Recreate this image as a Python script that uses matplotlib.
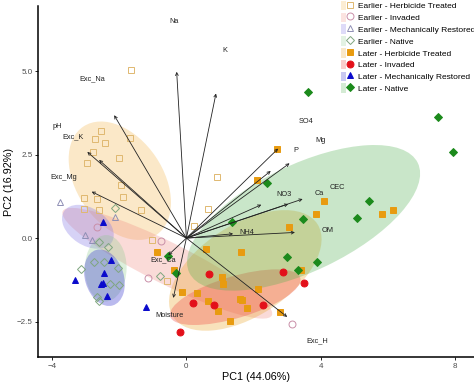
import numpy as np
import matplotlib
matplotlib.use("Agg")
import matplotlib.pyplot as plt
from matplotlib.patches import Ellipse, Patch
from matplotlib.lines import Line2D
from matplotlib.legend_handler import HandlerTuple

plt.rcParams['font.family'] = ['Liberation Sans', 'DejaVu Sans']

# PCA scores (PC1, PC2)
early_ht_x = [-1.65, -2.54, -2.72, -2.43, -1.68, -2.78, -2.96, -2.01, -1.95, -1.89,
              -3.05, -2.66, -3.05, -2.60, -1.35, 0.91, 0.64, 0.22, -1.03, -0.58]
early_ht_y = [5.03, 3.20, 2.96, 2.84, 2.99, 2.57, 2.25, 2.40, 1.59, 1.23,
              1.20, 1.17, 0.87, 0.84, 0.84, 1.83, 0.87, 0.36, -0.06, -1.29]
early_inv_x = [-2.66, -0.76, -1.15, 3.14]
early_inv_y = [0.33, -0.09, -1.20, -2.57]
early_mr_x = [-3.76, -3.02, -2.81, -2.13]
early_mr_y = [1.08, 0.09, -0.06, 0.63]
early_nat_x = [-2.13, -2.60, -2.34, -2.75, -2.46, -2.04, -3.14, -2.28, -2.01, -2.66, -2.60, -0.79]
early_nat_y = [0.90, -0.12, -0.27, -0.72, -0.72, -0.90, -0.93, -1.38, -1.41, -1.77, -1.89, -1.14]
late_ht_x = [2.69, 2.10, 4.09, 3.85, 3.05, 5.82, 6.15, 1.62, 3.41, 2.13, 1.59, 1.65,
             1.80, 2.78, 1.29, 0.58, 1.06, 1.09, 0.31, -0.13, 0.64, 0.94, -0.88, -0.37]
late_ht_y = [2.66, 1.74, 1.11, 0.72, 0.33, 0.72, 0.84, -0.42, -0.96, -1.53, -1.83, -1.86,
             -2.10, -2.22, -2.49, -0.33, -1.17, -1.38, -1.65, -1.62, -1.89, -2.19, -0.42, -0.96]
late_inv_x = [0.67, 0.19, 0.82, -0.19, 2.87, 3.50, 2.28]
late_inv_y = [-1.08, -1.95, -2.01, -2.81, -1.02, -1.35, -2.01]
late_mr_x = [-2.49, -2.25, -2.46, -2.49, -2.54, -3.32, -2.37, -1.21]
late_mr_y = [0.48, -0.66, -1.05, -1.35, -1.38, -1.26, -1.74, -2.07]
late_nat_x = [3.62, 7.49, 7.93, 2.40, 5.43, 5.07, 3.47, 1.35, 2.99, 3.88, 3.32, -0.55, -0.31]
late_nat_y = [4.37, 3.62, 2.57, 1.65, 1.11, 0.60, 0.57, 0.48, -0.57, -0.72, -0.96, -0.54, -1.05]

# variable loadings (arrow tips)
var_names = ['Na', 'K', 'Exc_Na', 'pH', 'Exc_K', 'Exc_Mg', 'SO4', 'Mg', 'P', 'NO3',
             'Ca', 'CEC', 'NH4', 'OM', 'Exc_Ca', 'Moisture', 'Exc_H']
load_x = [-0.29, 0.88, -2.15, -2.95, -2.60, -2.82, 2.73, 3.07, 2.51, 2.23,
          3.03, 3.46, 1.39, 3.23, -0.54, -0.39, 3.00]
load_y = [4.98, 4.33, 3.68, 2.58, 2.34, 1.39, 2.68, 2.24, 2.01, 1.00,
          1.02, 1.17, 0.13, 0.17, -0.51, -1.79, -2.36]

# name, x, y, marker, edge colour, face colour, ellipse fill, ellipse alpha
groups = [
    ('Earlier - Herbicide Treated', early_ht_x, early_ht_y, 's', '#E0B870', 'none', '#F3B54A', 0.3),
    ('Earlier - Invaded', early_inv_x, early_inv_y, 'o', '#C98FA8', 'none', '#F08A80', 0.3),
    ('Earlier - Mechanically Restored', early_mr_x, early_mr_y, '^', '#8F8FB5', 'none', '#8A80E8', 0.35),
    ('Earlier - Native', early_nat_x, early_nat_y, 'D', '#7FA67F', 'none', '#8CCB8C', 0.3),
    ('Later - Herbicide Treated', late_ht_x, late_ht_y, 's', '#E89B10', '#E89B10', '#E8A020', 0.3),
    ('Later - Invaded', late_inv_x, late_inv_y, 'o', '#E3101A', '#E3101A', '#F0504A', 0.35),
    ('Later - Mechanically Restored', late_mr_x, late_mr_y, '^', '#0A0ACC', '#0A0ACC', '#3A3AD0', 0.35),
    ('Later - Native', late_nat_x, late_nat_y, 'D', '#1C8A1C', '#1C8A1C', '#4CAF4C', 0.3),
]


def robust_cov(pts, nu=5, n_iter=100):
    # multivariate t fit, like MASS::cov.trob
    n, p = pts.shape
    w = np.ones(n)
    for _ in range(n_iter):
        mu = (w[:, None] * pts).sum(0) / w.sum()
        d = pts - mu
        cov = (w[:, None] * d).T @ d / n
        md = np.einsum('ij,jk,ik->i', d, np.linalg.inv(cov), d)
        w = (nu + p) / (nu + md)
    return mu, cov


level = 0.68
rad = np.sqrt(-2 * np.log(1 - level))

fig = plt.figure(figsize=(4.74, 3.87), dpi=100)
ax = fig.add_axes([0.080, 0.0775, 0.92, 0.907])

handles = []
for name, gx, gy, mk, ec, fc, ell, al in groups:
    pts = np.column_stack([gx, gy])
    mu, cov = robust_cov(pts)
    vals, vecs = np.linalg.eigh(cov)
    ang = np.degrees(np.arctan2(vecs[1, 1], vecs[0, 1]))
    e = Ellipse(mu, 2 * rad * np.sqrt(vals[1]), 2 * rad * np.sqrt(vals[0]), angle=ang,
                facecolor=ell, edgecolor='none', alpha=al, zorder=1)
    ax.add_patch(e)
    ms = 5
    if mk == 'D':
        ms = 3.8 if fc != 'none' else 4.5
    ax.plot(gx, gy, linestyle='none', marker=mk, markersize=ms, markeredgecolor=ec,
            markerfacecolor=fc, markeredgewidth=0.7, zorder=3)
    handles.append((Patch(facecolor=ell, alpha=al * 0.8, edgecolor='none'),
                    Line2D([], [], linestyle='none', marker=mk, markersize=ms,
                           markeredgecolor=ec, markerfacecolor=fc, markeredgewidth=0.7)))

for nm, lx, ly in zip(var_names, load_x, load_y):
    ax.annotate('', xy=(lx, ly), xytext=(0, 0),
                arrowprops=dict(arrowstyle='->', lw=0.6, color='#222222',
                                mutation_scale=5, shrinkA=0, shrinkB=0), zorder=4)
    ax.text(lx * 1.3, ly * 1.3, nm, fontsize=5.3, ha='center', va='center',
            color='#222222', zorder=5)

ax.set_xlim(-4.42, 8.56)
ax.set_ylim(-3.56, 6.95)
ax.set_xticks([-4, 0, 4, 8])
ax.set_yticks([-2.5, 0, 2.5, 5.0])
ax.set_yticklabels(['\u22122.5', '0.0', '2.5', '5.0'])
ax.set_xticklabels(['\u22124', '0', '4', '8'])
for s in ['top', 'right']:
    ax.spines[s].set_visible(False)
for s in ['left', 'bottom']:
    ax.spines[s].set_linewidth(1.1)
ax.tick_params(labelsize=5.8, labelcolor='#4D4D4D', length=2.5, width=0.6, pad=1.5)
ax.set_xlabel('PC1 (44.06%)', fontsize=7.8, labelpad=2)
ax.set_ylabel('PC2 (16.92%)', fontsize=7.8, labelpad=2)

ax.legend(handles, [g[0] for g in groups], handler_map={tuple: HandlerTuple(ndivide=None)},
          loc='upper left', bbox_to_anchor=(340 / 474, 1.0), bbox_transform=fig.transFigure,
          frameon=False, fontsize=6, handlelength=1.4, handleheight=1.4,
          labelspacing=0.26, handletextpad=0.6, borderpad=0.1, borderaxespad=0)

fig.savefig('out.png', dpi=100)
